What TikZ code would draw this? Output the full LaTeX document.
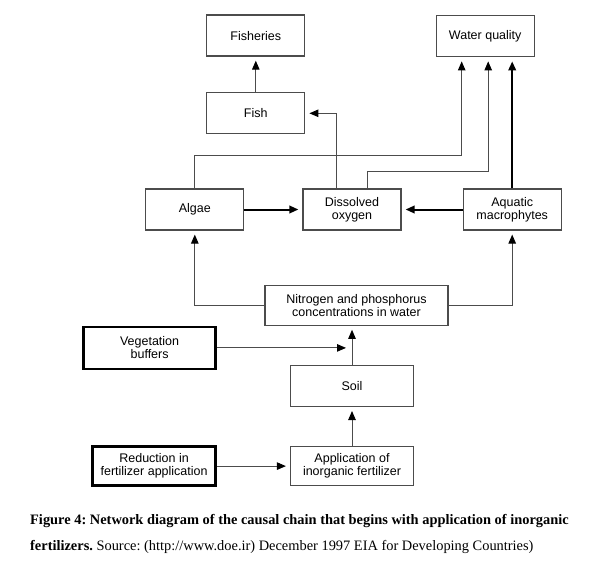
\documentclass[tikz,border=0pt]{standalone}
\usepackage{fontspec}
\setmainfont{Liberation Serif}
\newfontfamily\boxfont{Liberation Sans}
\usetikzlibrary{arrows.meta,positioning}
\frenchspacing

\begin{document}
\begin{tikzpicture}[
    x=1pt, y=1pt,
    >={Triangle[length=9pt,width=7.5pt,color=black]},
    thin line/.style={draw=black!70, line width=0.9pt, shorten >=4pt},
    thick line/.style={draw=black, line width=2pt, shorten >=4pt},
    effect node/.style={rectangle,draw=black!70,line width=1.2pt,minimum width=98pt,minimum height=41pt,inner sep=2pt,align=center,font=\boxfont\fontsize{12.5}{13}\selectfont},
    action node/.style={effect node,draw=black,line width=2.6pt}
]
\useasboundingbox (0,0) rectangle (595,-578);

% Middle row
\node[effect node] (oxygen) at (352,-209.5) {Dissolved\\oxygen};
\node[effect node, left=58pt of oxygen] (algae) {Algae};
\node[effect node, right=61pt of oxygen] (macro) {Aquatic\\macrophytes};

% Effects on top
\node[effect node, above=54pt of algae, xshift=61pt] (fish) {Fish};
\node[effect node, above=35.5pt of fish] (fisheries) {Fisheries};
\node[effect node, above=131pt of macro, xshift=-27pt] (quality) {Water quality};

% Chain from the fertilizer
\node[effect node, minimum width=183pt, minimum height=40pt, below=54pt of oxygen, xshift=4.5pt] (nutrients) {Nitrogen and phosphorus\\concentrations in water};
\node[effect node, minimum width=123pt, below=39pt of nutrients, xshift=-4.5pt] (soil) {Soil};
\node[effect node, minimum width=123pt, minimum height=39pt, below=39pt of soil] (fertilizer) {Application of\\inorganic fertilizer};

% Mitigation
\node[action node, minimum width=123pt, minimum height=39pt, left=73pt of fertilizer] (reduction) {Reduction in\\fertilizer application};
\node[action node, minimum width=132pt, minimum height=42pt, left=73pt of soil, yshift=38pt] (buffers) {Vegetation\\buffers};

% Caption
\node[anchor=north west, inner sep=0pt, align=left, font=\fontsize{14.4}{26}\selectfont] (caption) at (30,-514) {\textbf{Figure 4: Network diagram of the causal chain that begins with application of inorganic}\\\textbf{fertilizers.} Source: (http://www.doe.ir) December 1997 EIA for Developing Countries)};

% Arrows
\draw[thin line,->] (fish) -- (fisheries);
\draw[thin line,->] ([xshift=-16pt]oxygen.north) |- (fish.east);
\draw[thin line,->] (algae.north) -- ++(0,33pt) -| ([xshift=-23.5pt]quality.south);
\draw[thin line,->] ([xshift=15pt]oxygen.north) -- ++(0,17pt) -| ([xshift=3pt]quality.south);
\draw[thick line,->] (macro.north) -- (macro.north |- quality.south);

\draw[thick line,->] (algae) -- (oxygen);
\draw[thick line,->] (macro) -- (oxygen);

\draw[thin line,->] (nutrients.west) -| (algae.south);
\draw[thin line,->] (nutrients.east) -| (macro.south);

\draw[thin line,->] (soil) -- (soil |- nutrients.south);
\draw[thin line,->, shorten >=6pt] (buffers.east) -- (buffers.east -| soil.north);
\draw[thin line,->] (fertilizer) -- (soil);
\draw[thin line,->] (reduction) -- (fertilizer);

\end{tikzpicture}
\end{document}
